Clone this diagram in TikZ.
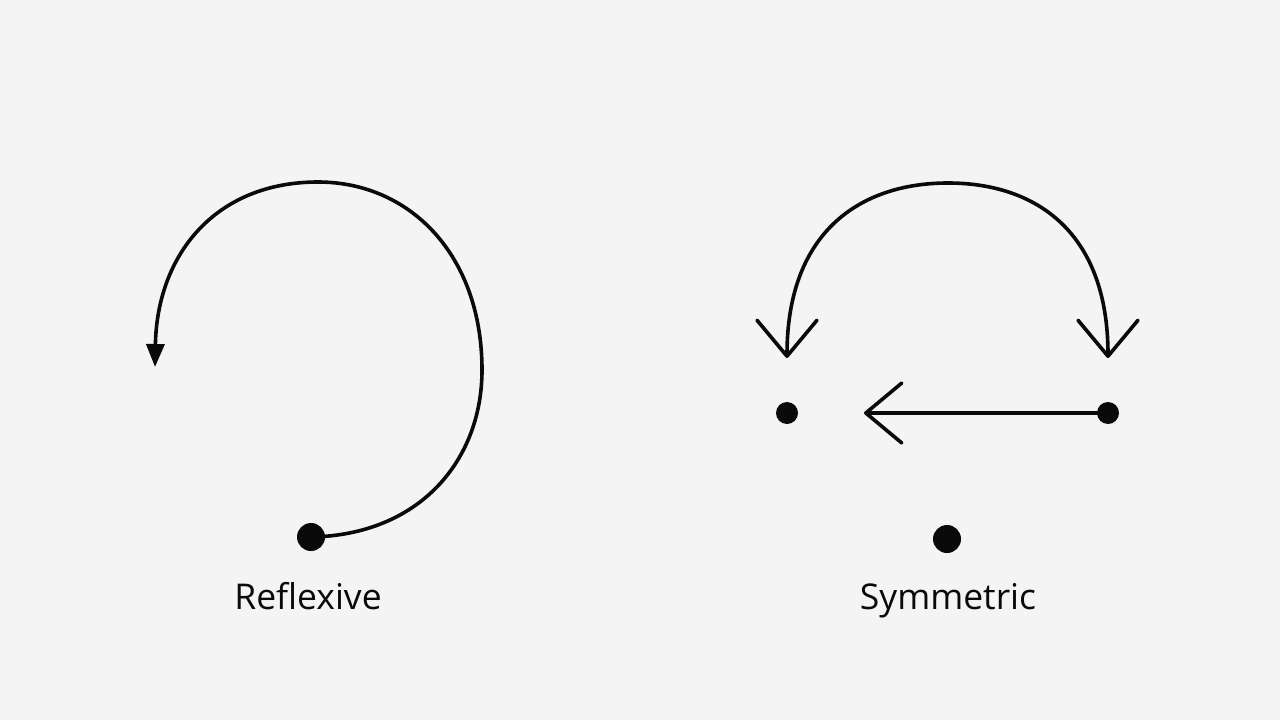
\documentclass[tikz,border=0pt]{standalone}
\usepackage{fontspec}
\setmainfont{Open Sans}
\usetikzlibrary{arrows.meta}
\definecolor{bg}{HTML}{F4F4F4}
\definecolor{ink}{HTML}{0A0A0A}
\begin{document}
\begin{tikzpicture}[x=1pt,y=-1pt,
  edge/.style={draw=ink,line width=3.6pt,line cap=round,line join=round},
  dotnode/.style={circle,fill=ink,inner sep=0pt,minimum size=#1},
  lbl/.style={font=\fontsize{35.5}{40}\selectfont,text=ink,inner sep=0pt,anchor=base},
  barb/.style={-{Straight Barb[length=36pt,width=60pt,line width=3.6pt,round]}}]
\fill[bg] (0,0) rectangle (1280,720);
\useasboundingbox (0,0) rectangle (1280,720);
% Reflexive
\node[dotnode=28pt] (r) at (311,537) {};
\coordinate (rend) at (155,367);
\node[lbl] (rl) at (308,609) {Reflexive};
\draw[edge,-{Triangle[length=23pt,width=18pt]}] (r.center) .. controls (420,535) and (482,460) .. (482,370)
  .. controls (482,255) and (410,182) .. (318,182)
  .. controls (215,182) and (157,255) .. (rend);
% Symmetric
\node[dotnode=22pt] (a) at (787,413) {};
\node[dotnode=22pt] (b) at (1108,413) {};
\node[dotnode=28pt] (c) at (947,539) {};
\coordinate (atop) at (787,358);
\coordinate (btop) at (1108,358);
\coordinate (hend) at (864,413);
\node[lbl] (sl) at (948,609) {Symmetric};
\draw[edge,{Straight Barb[length=36pt,width=60pt,line width=3.6pt,round]}-{Straight Barb[length=36pt,width=60pt,line width=3.6pt,round]}]
  (atop) .. controls (787,232) and (860,183) .. (948,183)
  .. controls (1036,183) and (1108,232) .. (btop);
\draw[edge,barb] (b.center) -- (hend);
\end{tikzpicture}
\end{document}
